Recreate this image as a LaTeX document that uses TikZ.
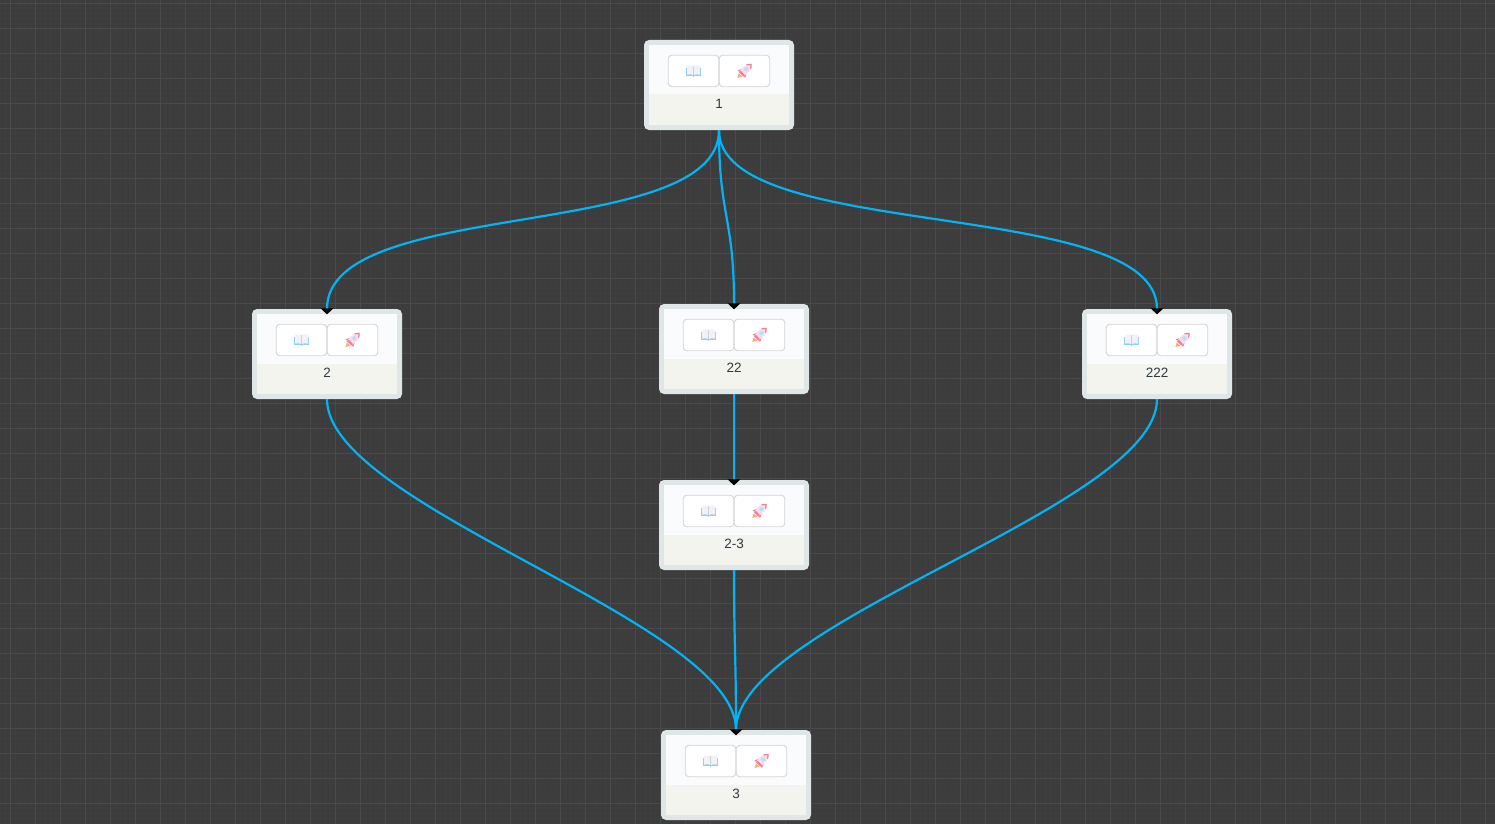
\documentclass[tikz,border=0pt]{standalone}
\usepackage{fontspec}
\setmainfont{Liberation Sans}
\definecolor{bgc}{HTML}{3C3C3C}
\definecolor{gridmajor}{HTML}{4A4A4A}
\definecolor{gridminor}{HTML}{3E3E3E}
\definecolor{frame}{HTML}{DFE6E7}
\definecolor{topc}{HTML}{FAFBFD}
\definecolor{botc}{HTML}{F4F4EE}
\definecolor{btnline}{HTML}{D4D4D4}
\definecolor{link}{HTML}{00B4F5}
\definecolor{bookblue}{HTML}{8CD0F4}
\definecolor{bookpage}{HTML}{F3F1F8}
\definecolor{rocketpink}{HTML}{F07A9A}
\definecolor{rocketlight}{HTML}{FCDDE6}
\definecolor{labelc}{HTML}{303840}
\tikzset{
  x=1pt,y=-1pt,
  frame box/.style={draw=none,fill=frame,rounded corners=5pt,minimum width=150pt,minimum height=90pt,inner sep=0pt},
  top band/.style={fill=topc,minimum width=140pt,minimum height=50pt,inner sep=0pt},
  bottom band/.style={fill=botc,minimum width=140pt,minimum height=30.5pt,inner sep=0pt},
  btn/.style={draw=btnline,line width=0.9pt,fill=white,rounded corners=3.5pt,minimum width=50.5pt,minimum height=31.5pt,inner sep=0pt},
  name label/.style={text=labelc,font=\fontsize{13.5}{15}\selectfont,inner sep=0pt},
  connector/.style={draw=link,line width=2.2pt},
  tip/.style={fill=black,draw=none},
}
% #1 name, #2 centre x, #3 centre y, #4 text
\newcommand{\flowbox}[4]{%
  \node[frame box] (#1) at (#2,#3) {};
  \node[top band] (#1-top) at (#2,#3-15) {};
  \node[bottom band] (#1-bot) at (#2,#3+24.75) {};
  \node[btn] (#1-book) at (#2-25.5,#3-14) {};
  \node[btn] (#1-rocket) at (#2+25.5,#3-14) {};
  \node[name label] (#1-text) at (#2,#3+18.5) {#4};
  \begin{scope}[shift={(#1-book.center)}]
    \fill[bookblue] (-7.5,-3) -- (-7.5,5.2) -- (7.5,5.2) -- (7.5,-3) -- cycle;
    \fill[bookblue] (-0.6,5) rectangle (0.6,6.4);
    \fill[bookpage] (-6.5,-5.4) .. controls (-3.5,-5.8) and (-1.5,-5.5) .. (0,-4.8) .. controls (1.5,-5.5) and (3.5,-5.8) .. (6.5,-5.4) -- (6.5,3.6) .. controls (3.5,3.2) and (1.5,3.2) .. (0,4) .. controls (-1.5,3.2) and (-3.5,3.2) .. (-6.5,3.6) -- cycle;
    \draw[black!18,line width=0.5pt] (0,-4.8) -- (0,4);
  \end{scope}
  \begin{scope}[shift={(#1-rocket.center)},rotate=-45,yshift=-0.5pt]
    \fill[rocketpink] (-5.4,4) -- (-3.2,-0.5) -- (3.2,-0.5) -- (5.4,4) -- (2,3.5) -- (-2,3.5) -- cycle;
    \fill[orange!50!rocketlight] (-2.5,5) -- (2.5,5) -- (0,9.5) -- cycle;
    \fill[rocketlight] (0,-10.5) .. controls (4.4,-6.5) and (4.2,-1) .. (3,4.5) -- (-3,4.5) .. controls (-4.2,-1) and (-4.4,-6.5) .. (0,-10.5) -- cycle;
    \fill[rocketpink] (0,-10.5) .. controls (1.8,-8.8) and (2.8,-7.6) .. (3.4,-6.2) -- (2.2,-6.2) .. controls (1.8,-7.4) and (1,-8.2) .. (0,-9) .. controls (-1,-8.2) and (-1.8,-7.4) .. (-2.2,-6.2) -- (-3.4,-6.2) .. controls (-2.8,-7.6) and (-1.8,-8.8) .. (0,-10.5) -- cycle;
    \fill[rocketpink] (-3,2) rectangle (3,4.2);
    \fill[bookblue!65!white] (0,-3) circle (2.1);
  \end{scope}
}
\newcommand{\tiphead}[1]{\fill[tip] ([xshift=-6.5pt,yshift=0.5pt]#1.north) -- ([xshift=6.5pt,yshift=0.5pt]#1.north) -- ([xshift=0pt,yshift=-5.5pt]#1.north) -- cycle;}
\begin{document}
\begin{tikzpicture}
\useasboundingbox (0,0) rectangle (1495,824);
\fill[bgc] (0,0) rectangle (1495,824);
\foreach \v in {0,5,...,1495} \draw[gridminor,line width=0.6pt] (\v,0) -- (\v,824);
\foreach \v in {3,8,...,824} \draw[gridminor,line width=0.6pt] (0,\v) -- (1495,\v);
\foreach \v in {10,35,...,1495} \draw[gridmajor,line width=0.8pt] (\v,0) -- (\v,824);
\foreach \v in {3,28,...,824} \draw[gridmajor,line width=0.8pt] (0,\v) -- (1495,\v);
\flowbox{a}{719}{85}{1}
\flowbox{b}{327}{354}{2}
\flowbox{c}{734}{349}{22}
\flowbox{d}{1157}{354}{222}
\flowbox{e}{734}{525}{2-3}
\flowbox{f}{736}{775}{3}
\draw[connector] (a.south) .. controls +(0,113) and +(0,-113) .. (b.north);
\draw[connector] (a.south) .. controls +(0,88) and +(0,-88) .. (c.north);
\draw[connector] (a.south) .. controls +(0,113) and +(0,-113) .. (d.north);
\draw[connector] (b.south) .. controls +(0,108) and +(0,-108) .. (f.north);
\draw[connector] (d.south) .. controls +(0,108) and +(0,-108) .. (f.north);
\draw[connector] (c.south) -- (e.north);
\draw[connector] (e.south) .. controls +(0,75) and +(0,-75) .. (f.north);
\foreach \n in {b,c,d,e,f} {\tiphead{\n}}
\end{tikzpicture}
\end{document}
